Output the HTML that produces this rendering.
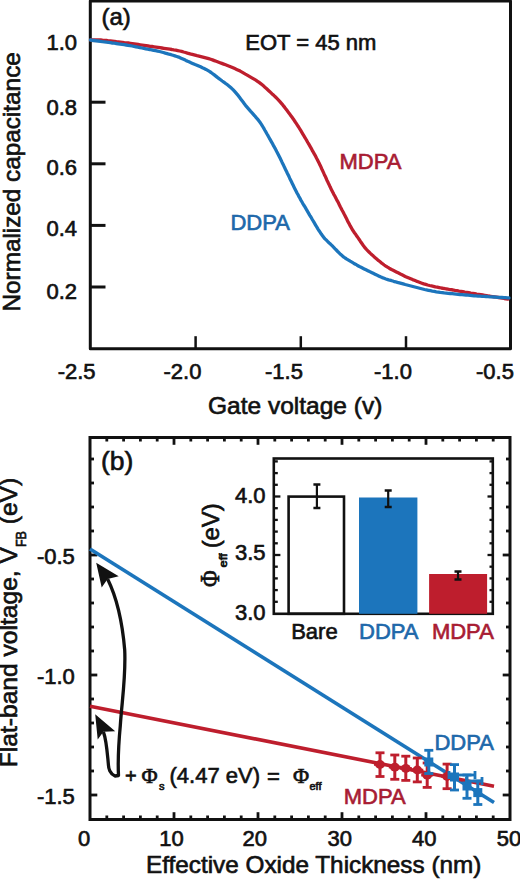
<!DOCTYPE html>
<html><head><meta charset="utf-8"><style>
html,body{margin:0;padding:0;background:#fff;}
svg{display:block;}
text{font-family:"Liberation Sans", sans-serif;}
</style></head><body>
<svg width="520" height="879" viewBox="0 0 520 879">
<rect width="520" height="879" fill="#fff"/>
<rect x="90.3" y="1.0" width="420.2" height="347.8" fill="none" stroke="#111" stroke-width="3" stroke-linejoin="round"/>
<line x1="90.30" y1="40.60" x2="105.50" y2="40.60" stroke="#111" stroke-width="3"/>
<line x1="90.30" y1="102.20" x2="105.50" y2="102.20" stroke="#111" stroke-width="3"/>
<line x1="90.30" y1="163.80" x2="105.50" y2="163.80" stroke="#111" stroke-width="3"/>
<line x1="90.30" y1="225.40" x2="105.50" y2="225.40" stroke="#111" stroke-width="3"/>
<line x1="90.30" y1="287.00" x2="105.50" y2="287.00" stroke="#111" stroke-width="3"/>
<line x1="195.60" y1="348.80" x2="195.60" y2="336.20" stroke="#111" stroke-width="2.5"/>
<line x1="300.80" y1="348.80" x2="300.80" y2="336.20" stroke="#111" stroke-width="2.5"/>
<line x1="406.00" y1="348.80" x2="406.00" y2="336.20" stroke="#111" stroke-width="2.5"/>
<polyline points="90.5,40.0 92.5,40.0 94.5,39.9 96.5,39.9 98.5,40.0 100.5,40.0 102.5,40.2 104.5,40.3 106.5,40.5 108.4,40.8 110.4,41.0 112.4,41.2 114.4,41.4 116.4,41.7 118.4,41.9 120.4,42.1 122.4,42.3 124.3,42.6 126.3,42.8 128.3,43.0 130.3,43.3 132.3,43.6 134.3,43.9 136.2,44.2 138.2,44.5 140.2,44.8 142.2,45.1 144.1,45.4 146.1,45.7 148.1,46.0 150.1,46.3 152.1,46.5 154.0,46.8 156.0,47.1 158.0,47.4 160.0,47.7 161.9,48.0 163.9,48.3 165.9,48.6 167.9,48.9 169.9,49.2 171.8,49.5 173.8,49.9 175.8,50.2 177.7,50.6 179.7,51.0 181.6,51.4 183.6,52.0 185.5,52.5 187.4,53.1 189.3,53.6 191.2,54.2 193.2,54.7 195.1,55.2 197.0,55.7 199.0,56.1 200.9,56.6 202.9,57.1 204.8,57.6 206.7,58.1 208.7,58.7 210.6,59.3 212.5,59.9 214.3,60.6 216.2,61.3 218.1,62.0 220.0,62.7 221.8,63.4 223.7,64.1 225.6,64.8 227.4,65.5 229.3,66.2 231.2,67.0 233.0,67.8 234.8,68.6 236.6,69.4 238.4,70.2 240.2,71.1 242.0,72.1 243.7,73.1 245.4,74.1 247.2,75.1 248.9,76.1 250.6,77.1 252.3,78.1 254.1,79.2 255.8,80.2 257.5,81.3 259.1,82.4 260.7,83.6 262.2,84.8 263.7,86.1 265.2,87.5 266.7,88.8 268.2,90.2 269.6,91.5 271.1,92.9 272.5,94.3 274.0,95.6 275.5,97.0 276.9,98.4 278.3,99.8 279.7,101.3 281.0,102.8 282.3,104.3 283.5,105.9 284.7,107.4 285.9,109.0 287.1,110.6 288.3,112.2 289.5,113.8 290.7,115.4 291.9,117.0 293.1,118.7 294.2,120.3 295.3,122.0 296.4,123.6 297.5,125.3 298.6,127.0 299.6,128.7 300.7,130.4 301.7,132.1 302.7,133.8 303.8,135.6 304.8,137.3 305.8,139.0 306.8,140.7 307.8,142.5 308.8,144.2 309.8,145.9 310.8,147.7 311.8,149.4 312.7,151.2 313.7,152.9 314.7,154.7 315.7,156.4 316.6,158.2 317.5,159.9 318.4,161.7 319.3,163.5 320.1,165.3 321.0,167.1 321.8,169.0 322.7,170.8 323.5,172.6 324.3,174.4 325.2,176.2 326.0,178.0 326.8,179.9 327.7,181.7 328.5,183.5 329.4,185.3 330.2,187.1 331.1,188.9 332.0,190.7 332.9,192.5 333.8,194.3 334.8,196.0 335.7,197.8 336.6,199.6 337.6,201.3 338.5,203.1 339.4,204.9 340.3,206.7 341.2,208.4 342.1,210.2 343.1,212.0 344.0,213.8 344.9,215.5 345.8,217.3 346.7,219.1 347.6,220.9 348.5,222.7 349.5,224.4 350.4,226.2 351.4,227.9 352.4,229.7 353.5,231.3 354.6,233.0 355.8,234.6 356.9,236.2 358.1,237.9 359.2,239.5 360.3,241.2 361.4,242.8 362.6,244.5 363.7,246.1 364.9,247.7 366.2,249.2 367.6,250.6 369.0,252.0 370.4,253.4 371.9,254.8 373.4,256.1 374.9,257.5 376.4,258.8 377.9,260.1 379.5,261.3 381.0,262.6 382.6,263.8 384.2,265.0 385.8,266.1 387.5,267.2 389.2,268.2 391.0,269.2 392.7,270.1 394.5,271.0 396.3,271.9 398.1,272.8 399.9,273.7 401.6,274.6 403.4,275.5 405.2,276.4 407.0,277.2 408.9,278.0 410.7,278.8 412.6,279.6 414.4,280.3 416.3,281.1 418.1,281.8 420.0,282.5 421.9,283.2 423.8,283.9 425.7,284.4 427.6,285.0 429.5,285.5 431.5,285.9 433.4,286.3 435.4,286.8 437.3,287.2 439.3,287.6 441.3,288.0 443.2,288.3 445.2,288.7 447.2,289.0 449.1,289.4 451.1,289.7 453.1,290.0 455.0,290.4 457.0,290.7 459.0,291.1 461.0,291.4 462.9,291.7 464.9,292.1 466.9,292.4 468.8,292.7 470.8,293.1 472.8,293.4 474.8,293.7 476.7,294.1 478.7,294.4 480.7,294.7 482.7,295.0 484.6,295.3 486.6,295.6 488.6,296.0 490.6,296.3 492.5,296.6 494.5,296.9 496.5,297.2 498.5,297.5 500.4,297.8 502.4,298.1 504.3,298.5 506.2,298.8 508.1,299.1" fill="none" stroke="#be1e2d" stroke-width="3.3" stroke-linejoin="round" stroke-linecap="round"/>
<polyline points="90.5,40.0 92.5,40.3 94.5,40.5 96.5,40.8 98.4,41.0 100.4,41.3 102.4,41.6 104.4,41.8 106.4,42.1 108.3,42.4 110.3,42.7 112.3,43.0 114.3,43.2 116.3,43.5 118.2,43.8 120.2,44.1 122.2,44.4 124.2,44.7 126.2,45.0 128.1,45.3 130.1,45.6 132.1,46.0 134.0,46.4 136.0,46.8 137.9,47.2 139.9,47.6 141.9,48.0 143.8,48.4 145.8,48.8 147.7,49.2 149.7,49.5 151.7,49.9 153.6,50.3 155.6,50.7 157.6,51.1 159.5,51.5 161.4,52.0 163.4,52.5 165.3,53.1 167.2,53.6 169.1,54.2 171.1,54.7 173.0,55.3 174.9,55.9 176.8,56.5 178.7,57.1 180.5,57.9 182.3,58.7 184.2,59.5 185.9,60.4 187.7,61.3 189.5,62.1 191.4,62.9 193.2,63.7 195.1,64.5 196.9,65.2 198.7,66.0 200.6,66.8 202.4,67.7 204.2,68.5 206.0,69.4 207.7,70.4 209.4,71.4 211.1,72.5 212.7,73.7 214.3,74.9 215.8,76.1 217.4,77.4 219.0,78.6 220.6,79.8 222.2,81.0 223.8,82.1 225.4,83.3 227.1,84.5 228.6,85.7 230.1,87.0 231.6,88.3 233.0,89.7 234.4,91.2 235.7,92.7 237.0,94.2 238.3,95.7 239.5,97.3 240.7,98.9 241.9,100.5 243.1,102.1 244.3,103.7 245.5,105.3 246.8,106.8 248.1,108.3 249.4,109.8 250.7,111.3 252.1,112.8 253.4,114.3 254.7,115.8 256.0,117.4 257.3,118.9 258.6,120.4 259.8,122.0 260.9,123.6 262.0,125.3 263.0,127.0 264.0,128.7 265.0,130.5 266.0,132.2 267.0,134.0 268.0,135.7 269.0,137.5 269.9,139.2 270.9,140.9 271.9,142.7 272.9,144.4 273.8,146.2 274.8,147.9 275.8,149.7 276.7,151.5 277.6,153.2 278.5,155.0 279.4,156.8 280.3,158.6 281.2,160.4 282.0,162.2 282.9,164.0 283.8,165.8 284.6,167.6 285.5,169.4 286.4,171.2 287.2,173.0 288.1,174.8 289.0,176.6 289.8,178.4 290.7,180.2 291.6,182.0 292.4,183.8 293.3,185.6 294.2,187.4 295.1,189.2 296.0,191.0 296.9,192.8 297.9,194.5 298.8,196.3 299.8,198.0 300.7,199.8 301.7,201.5 302.7,203.3 303.7,205.0 304.8,206.7 305.8,208.4 306.8,210.2 307.8,211.9 308.8,213.6 309.8,215.3 310.9,217.0 311.9,218.8 312.9,220.5 313.9,222.2 314.9,223.9 315.9,225.7 317.0,227.4 318.0,229.1 319.1,230.8 320.2,232.4 321.3,234.1 322.5,235.7 323.7,237.3 325.0,238.8 326.4,240.2 327.8,241.6 329.2,243.0 330.7,244.3 332.1,245.7 333.5,247.1 334.9,248.6 336.3,250.0 337.7,251.5 339.1,252.9 340.5,254.3 342.0,255.6 343.5,256.9 345.1,258.0 346.8,259.1 348.5,260.1 350.2,261.2 351.9,262.2 353.6,263.2 355.4,264.2 357.1,265.2 358.9,266.2 360.6,267.1 362.4,268.0 364.2,268.9 366.0,269.8 367.8,270.7 369.6,271.6 371.4,272.4 373.2,273.3 375.0,274.2 376.8,275.1 378.6,275.9 380.4,276.8 382.2,277.6 384.1,278.3 385.9,279.0 387.8,279.6 389.7,280.2 391.7,280.7 393.6,281.3 395.5,281.8 397.4,282.4 399.4,282.9 401.3,283.4 403.2,283.9 405.2,284.5 407.1,285.0 409.0,285.5 411.0,286.0 412.9,286.5 414.8,287.0 416.8,287.5 418.7,288.0 420.6,288.5 422.6,289.0 424.5,289.5 426.5,289.9 428.4,290.3 430.4,290.7 432.3,291.1 434.3,291.4 436.3,291.8 438.3,292.1 440.2,292.4 442.2,292.6 444.2,292.9 446.2,293.1 448.2,293.3 450.2,293.5 452.2,293.7 454.1,293.9 456.1,294.1 458.1,294.3 460.1,294.5 462.1,294.6 464.1,294.8 466.1,295.0 468.1,295.2 470.1,295.4 472.1,295.6 474.1,295.8 476.0,295.9 478.0,296.1 480.0,296.2 482.0,296.3 484.0,296.4 486.0,296.5 488.0,296.7 490.0,296.8 492.0,296.9 494.0,297.0 496.0,297.1 498.0,297.3 500.0,297.4 502.0,297.5 503.9,297.6 505.7,297.7 507.4,297.8 509.0,297.9" fill="none" stroke="#1c75bc" stroke-width="3.3" stroke-linejoin="round" stroke-linecap="round"/>
<text x="77.00" y="50.20" font-size="22" text-anchor="end" fill="#111" stroke="#111" stroke-width="0.65" >1.0</text>
<text x="77.00" y="115.00" font-size="22" text-anchor="end" fill="#111" stroke="#111" stroke-width="0.65" >0.8</text>
<text x="77.00" y="175.00" font-size="22" text-anchor="end" fill="#111" stroke="#111" stroke-width="0.65" >0.6</text>
<text x="77.00" y="236.30" font-size="22" text-anchor="end" fill="#111" stroke="#111" stroke-width="0.65" >0.4</text>
<text x="77.00" y="299.00" font-size="22" text-anchor="end" fill="#111" stroke="#111" stroke-width="0.65" >0.2</text>
<text x="57.70" y="378.80" font-size="22" text-anchor="start" fill="#111" stroke="#111" stroke-width="0.65" >-2.5</text>
<text x="163.50" y="378.80" font-size="22" text-anchor="start" fill="#111" stroke="#111" stroke-width="0.65" >-2.0</text>
<text x="265.00" y="378.80" font-size="22" text-anchor="start" fill="#111" stroke="#111" stroke-width="0.65" >-1.5</text>
<text x="374.00" y="378.80" font-size="22" text-anchor="start" fill="#111" stroke="#111" stroke-width="0.65" >-1.0</text>
<text x="476.00" y="378.80" font-size="22" text-anchor="start" fill="#111" stroke="#111" stroke-width="0.65" >-0.5</text>
<text x="208.00" y="414.20" font-size="24.5" text-anchor="start" fill="#111" stroke="#111" stroke-width="0.65" >Gate voltage (v)</text>
<text transform="translate(19.5,311.5) rotate(-90)" font-size="24.3" fill="#111" stroke="#111" stroke-width="0.65">Normalized capacitance</text>
<text x="101.50" y="25.00" font-size="24" text-anchor="start" fill="#111" stroke="#111" stroke-width="0.65" >(a)</text>
<text x="245.30" y="49.50" font-size="22" text-anchor="start" fill="#111" stroke="#111" stroke-width="0.65" >EOT = 45 nm</text>
<text x="339.50" y="168.90" font-size="22" text-anchor="start" fill="#a81c33" stroke="#a81c33" stroke-width="0.65" >MDPA</text>
<text x="230.40" y="229.80" font-size="22" text-anchor="start" fill="#2068aa" stroke="#2068aa" stroke-width="0.65" >DDPA</text>
<rect x="90.0" y="437.5" width="420.0" height="382.0" fill="none" stroke="#111" stroke-width="3"/>
<line x1="106.80" y1="819.50" x2="106.80" y2="815.50" stroke="#111" stroke-width="2.8"/>
<line x1="106.80" y1="437.50" x2="106.80" y2="441.50" stroke="#111" stroke-width="2.8"/>
<line x1="123.60" y1="819.50" x2="123.60" y2="815.50" stroke="#111" stroke-width="2.8"/>
<line x1="123.60" y1="437.50" x2="123.60" y2="441.50" stroke="#111" stroke-width="2.8"/>
<line x1="140.40" y1="819.50" x2="140.40" y2="815.50" stroke="#111" stroke-width="2.8"/>
<line x1="140.40" y1="437.50" x2="140.40" y2="441.50" stroke="#111" stroke-width="2.8"/>
<line x1="157.20" y1="819.50" x2="157.20" y2="815.50" stroke="#111" stroke-width="2.8"/>
<line x1="157.20" y1="437.50" x2="157.20" y2="441.50" stroke="#111" stroke-width="2.8"/>
<line x1="174.00" y1="819.50" x2="174.00" y2="812.20" stroke="#111" stroke-width="2.8"/>
<line x1="174.00" y1="437.50" x2="174.00" y2="444.80" stroke="#111" stroke-width="2.8"/>
<line x1="190.80" y1="819.50" x2="190.80" y2="815.50" stroke="#111" stroke-width="2.8"/>
<line x1="190.80" y1="437.50" x2="190.80" y2="441.50" stroke="#111" stroke-width="2.8"/>
<line x1="207.60" y1="819.50" x2="207.60" y2="815.50" stroke="#111" stroke-width="2.8"/>
<line x1="207.60" y1="437.50" x2="207.60" y2="441.50" stroke="#111" stroke-width="2.8"/>
<line x1="224.40" y1="819.50" x2="224.40" y2="815.50" stroke="#111" stroke-width="2.8"/>
<line x1="224.40" y1="437.50" x2="224.40" y2="441.50" stroke="#111" stroke-width="2.8"/>
<line x1="241.20" y1="819.50" x2="241.20" y2="815.50" stroke="#111" stroke-width="2.8"/>
<line x1="241.20" y1="437.50" x2="241.20" y2="441.50" stroke="#111" stroke-width="2.8"/>
<line x1="258.00" y1="819.50" x2="258.00" y2="812.20" stroke="#111" stroke-width="2.8"/>
<line x1="258.00" y1="437.50" x2="258.00" y2="444.80" stroke="#111" stroke-width="2.8"/>
<line x1="274.80" y1="819.50" x2="274.80" y2="815.50" stroke="#111" stroke-width="2.8"/>
<line x1="274.80" y1="437.50" x2="274.80" y2="441.50" stroke="#111" stroke-width="2.8"/>
<line x1="291.60" y1="819.50" x2="291.60" y2="815.50" stroke="#111" stroke-width="2.8"/>
<line x1="291.60" y1="437.50" x2="291.60" y2="441.50" stroke="#111" stroke-width="2.8"/>
<line x1="308.40" y1="819.50" x2="308.40" y2="815.50" stroke="#111" stroke-width="2.8"/>
<line x1="308.40" y1="437.50" x2="308.40" y2="441.50" stroke="#111" stroke-width="2.8"/>
<line x1="325.20" y1="819.50" x2="325.20" y2="815.50" stroke="#111" stroke-width="2.8"/>
<line x1="325.20" y1="437.50" x2="325.20" y2="441.50" stroke="#111" stroke-width="2.8"/>
<line x1="342.00" y1="819.50" x2="342.00" y2="812.20" stroke="#111" stroke-width="2.8"/>
<line x1="342.00" y1="437.50" x2="342.00" y2="444.80" stroke="#111" stroke-width="2.8"/>
<line x1="358.80" y1="819.50" x2="358.80" y2="815.50" stroke="#111" stroke-width="2.8"/>
<line x1="358.80" y1="437.50" x2="358.80" y2="441.50" stroke="#111" stroke-width="2.8"/>
<line x1="375.60" y1="819.50" x2="375.60" y2="815.50" stroke="#111" stroke-width="2.8"/>
<line x1="375.60" y1="437.50" x2="375.60" y2="441.50" stroke="#111" stroke-width="2.8"/>
<line x1="392.40" y1="819.50" x2="392.40" y2="815.50" stroke="#111" stroke-width="2.8"/>
<line x1="392.40" y1="437.50" x2="392.40" y2="441.50" stroke="#111" stroke-width="2.8"/>
<line x1="409.20" y1="819.50" x2="409.20" y2="815.50" stroke="#111" stroke-width="2.8"/>
<line x1="409.20" y1="437.50" x2="409.20" y2="441.50" stroke="#111" stroke-width="2.8"/>
<line x1="426.00" y1="819.50" x2="426.00" y2="812.20" stroke="#111" stroke-width="2.8"/>
<line x1="426.00" y1="437.50" x2="426.00" y2="444.80" stroke="#111" stroke-width="2.8"/>
<line x1="442.80" y1="819.50" x2="442.80" y2="815.50" stroke="#111" stroke-width="2.8"/>
<line x1="442.80" y1="437.50" x2="442.80" y2="441.50" stroke="#111" stroke-width="2.8"/>
<line x1="459.60" y1="819.50" x2="459.60" y2="815.50" stroke="#111" stroke-width="2.8"/>
<line x1="459.60" y1="437.50" x2="459.60" y2="441.50" stroke="#111" stroke-width="2.8"/>
<line x1="476.40" y1="819.50" x2="476.40" y2="815.50" stroke="#111" stroke-width="2.8"/>
<line x1="476.40" y1="437.50" x2="476.40" y2="441.50" stroke="#111" stroke-width="2.8"/>
<line x1="493.20" y1="819.50" x2="493.20" y2="815.50" stroke="#111" stroke-width="2.8"/>
<line x1="493.20" y1="437.50" x2="493.20" y2="441.50" stroke="#111" stroke-width="2.8"/>
<line x1="90.00" y1="459.00" x2="94.00" y2="459.00" stroke="#111" stroke-width="2.8"/>
<line x1="510.00" y1="459.00" x2="506.00" y2="459.00" stroke="#111" stroke-width="2.8"/>
<line x1="90.00" y1="483.00" x2="94.00" y2="483.00" stroke="#111" stroke-width="2.8"/>
<line x1="510.00" y1="483.00" x2="506.00" y2="483.00" stroke="#111" stroke-width="2.8"/>
<line x1="90.00" y1="507.00" x2="94.00" y2="507.00" stroke="#111" stroke-width="2.8"/>
<line x1="510.00" y1="507.00" x2="506.00" y2="507.00" stroke="#111" stroke-width="2.8"/>
<line x1="90.00" y1="531.00" x2="94.00" y2="531.00" stroke="#111" stroke-width="2.8"/>
<line x1="510.00" y1="531.00" x2="506.00" y2="531.00" stroke="#111" stroke-width="2.8"/>
<line x1="90.00" y1="555.00" x2="97.30" y2="555.00" stroke="#111" stroke-width="2.8"/>
<line x1="510.00" y1="555.00" x2="502.70" y2="555.00" stroke="#111" stroke-width="2.8"/>
<line x1="90.00" y1="579.00" x2="94.00" y2="579.00" stroke="#111" stroke-width="2.8"/>
<line x1="510.00" y1="579.00" x2="506.00" y2="579.00" stroke="#111" stroke-width="2.8"/>
<line x1="90.00" y1="603.00" x2="94.00" y2="603.00" stroke="#111" stroke-width="2.8"/>
<line x1="510.00" y1="603.00" x2="506.00" y2="603.00" stroke="#111" stroke-width="2.8"/>
<line x1="90.00" y1="627.00" x2="94.00" y2="627.00" stroke="#111" stroke-width="2.8"/>
<line x1="510.00" y1="627.00" x2="506.00" y2="627.00" stroke="#111" stroke-width="2.8"/>
<line x1="90.00" y1="651.00" x2="94.00" y2="651.00" stroke="#111" stroke-width="2.8"/>
<line x1="510.00" y1="651.00" x2="506.00" y2="651.00" stroke="#111" stroke-width="2.8"/>
<line x1="90.00" y1="675.00" x2="97.30" y2="675.00" stroke="#111" stroke-width="2.8"/>
<line x1="510.00" y1="675.00" x2="502.70" y2="675.00" stroke="#111" stroke-width="2.8"/>
<line x1="90.00" y1="699.00" x2="94.00" y2="699.00" stroke="#111" stroke-width="2.8"/>
<line x1="510.00" y1="699.00" x2="506.00" y2="699.00" stroke="#111" stroke-width="2.8"/>
<line x1="90.00" y1="723.00" x2="94.00" y2="723.00" stroke="#111" stroke-width="2.8"/>
<line x1="510.00" y1="723.00" x2="506.00" y2="723.00" stroke="#111" stroke-width="2.8"/>
<line x1="90.00" y1="747.00" x2="94.00" y2="747.00" stroke="#111" stroke-width="2.8"/>
<line x1="510.00" y1="747.00" x2="506.00" y2="747.00" stroke="#111" stroke-width="2.8"/>
<line x1="90.00" y1="771.00" x2="94.00" y2="771.00" stroke="#111" stroke-width="2.8"/>
<line x1="510.00" y1="771.00" x2="506.00" y2="771.00" stroke="#111" stroke-width="2.8"/>
<line x1="90.00" y1="795.00" x2="97.30" y2="795.00" stroke="#111" stroke-width="2.8"/>
<line x1="510.00" y1="795.00" x2="502.70" y2="795.00" stroke="#111" stroke-width="2.8"/>
<line x1="90.00" y1="549.00" x2="494.00" y2="802.50" stroke="#1c75bc" stroke-width="3.6"/>
<line x1="90.00" y1="706.20" x2="494.00" y2="786.20" stroke="#be1e2d" stroke-width="3.6"/>
<line x1="380.00" y1="752.80" x2="380.00" y2="776.50" stroke="#be1e2d" stroke-width="3"/>
<line x1="375.50" y1="752.80" x2="384.50" y2="752.80" stroke="#be1e2d" stroke-width="2.8"/>
<line x1="375.50" y1="776.50" x2="384.50" y2="776.50" stroke="#be1e2d" stroke-width="2.8"/>
<line x1="374.00" y1="764.50" x2="386.00" y2="764.50" stroke="#be1e2d" stroke-width="2.6"/>
<ellipse cx="380" cy="764.5" rx="4.9" ry="4.4" fill="#be1e2d"/>
<line x1="394.80" y1="755.00" x2="394.80" y2="779.30" stroke="#be1e2d" stroke-width="3"/>
<line x1="390.30" y1="755.00" x2="399.30" y2="755.00" stroke="#be1e2d" stroke-width="2.8"/>
<line x1="390.30" y1="779.30" x2="399.30" y2="779.30" stroke="#be1e2d" stroke-width="2.8"/>
<line x1="388.80" y1="767.20" x2="400.80" y2="767.20" stroke="#be1e2d" stroke-width="2.6"/>
<ellipse cx="394.8" cy="767.2" rx="4.9" ry="4.4" fill="#be1e2d"/>
<line x1="405.80" y1="756.20" x2="405.80" y2="780.40" stroke="#be1e2d" stroke-width="3"/>
<line x1="401.30" y1="756.20" x2="410.30" y2="756.20" stroke="#be1e2d" stroke-width="2.8"/>
<line x1="401.30" y1="780.40" x2="410.30" y2="780.40" stroke="#be1e2d" stroke-width="2.8"/>
<line x1="399.80" y1="768.30" x2="411.80" y2="768.30" stroke="#be1e2d" stroke-width="2.6"/>
<ellipse cx="405.8" cy="768.3" rx="4.9" ry="4.4" fill="#be1e2d"/>
<line x1="417.30" y1="758.00" x2="417.30" y2="781.90" stroke="#be1e2d" stroke-width="3"/>
<line x1="412.80" y1="758.00" x2="421.80" y2="758.00" stroke="#be1e2d" stroke-width="2.8"/>
<line x1="412.80" y1="781.90" x2="421.80" y2="781.90" stroke="#be1e2d" stroke-width="2.8"/>
<line x1="411.30" y1="770.00" x2="423.30" y2="770.00" stroke="#be1e2d" stroke-width="2.6"/>
<ellipse cx="417.3" cy="770" rx="4.9" ry="4.4" fill="#be1e2d"/>
<line x1="427.20" y1="763.00" x2="427.20" y2="787.40" stroke="#be1e2d" stroke-width="3"/>
<line x1="422.70" y1="763.00" x2="431.70" y2="763.00" stroke="#be1e2d" stroke-width="2.8"/>
<line x1="422.70" y1="787.40" x2="431.70" y2="787.40" stroke="#be1e2d" stroke-width="2.8"/>
<line x1="421.20" y1="775.20" x2="433.20" y2="775.20" stroke="#be1e2d" stroke-width="2.6"/>
<ellipse cx="427.2" cy="775.2" rx="4.9" ry="4.4" fill="#be1e2d"/>
<line x1="447.10" y1="764.10" x2="447.10" y2="788.70" stroke="#be1e2d" stroke-width="3"/>
<line x1="442.60" y1="764.10" x2="451.60" y2="764.10" stroke="#be1e2d" stroke-width="2.8"/>
<line x1="442.60" y1="788.70" x2="451.60" y2="788.70" stroke="#be1e2d" stroke-width="2.8"/>
<line x1="441.10" y1="776.40" x2="453.10" y2="776.40" stroke="#be1e2d" stroke-width="2.6"/>
<ellipse cx="447.1" cy="776.4" rx="4.9" ry="4.4" fill="#be1e2d"/>
<line x1="428.80" y1="750.30" x2="428.80" y2="773.50" stroke="#1c75bc" stroke-width="3"/>
<line x1="424.30" y1="750.30" x2="433.30" y2="750.30" stroke="#1c75bc" stroke-width="2.8"/>
<line x1="424.30" y1="773.50" x2="433.30" y2="773.50" stroke="#1c75bc" stroke-width="2.8"/>
<rect x="424.3" y="757.5" width="9" height="9" fill="#1c75bc"/>
<line x1="454.50" y1="764.60" x2="454.50" y2="790.00" stroke="#1c75bc" stroke-width="3"/>
<line x1="450.00" y1="764.60" x2="459.00" y2="764.60" stroke="#1c75bc" stroke-width="2.8"/>
<line x1="450.00" y1="790.00" x2="459.00" y2="790.00" stroke="#1c75bc" stroke-width="2.8"/>
<rect x="450.0" y="772.5" width="9" height="9" fill="#1c75bc"/>
<line x1="467.00" y1="775.00" x2="467.00" y2="798.30" stroke="#1c75bc" stroke-width="3"/>
<line x1="462.50" y1="775.00" x2="471.50" y2="775.00" stroke="#1c75bc" stroke-width="2.8"/>
<line x1="462.50" y1="798.30" x2="471.50" y2="798.30" stroke="#1c75bc" stroke-width="2.8"/>
<rect x="462.5" y="781.5" width="9" height="9" fill="#1c75bc"/>
<line x1="477.80" y1="781.00" x2="477.80" y2="804.50" stroke="#1c75bc" stroke-width="3"/>
<line x1="473.30" y1="781.00" x2="482.30" y2="781.00" stroke="#1c75bc" stroke-width="2.8"/>
<line x1="473.30" y1="804.50" x2="482.30" y2="804.50" stroke="#1c75bc" stroke-width="2.8"/>
<rect x="473.3" y="788.1" width="9" height="9" fill="#1c75bc"/>
<line x1="424.30" y1="759.50" x2="433.00" y2="759.50" stroke="#1c75bc" stroke-width="2.8"/>
<line x1="449.00" y1="775.00" x2="475.00" y2="775.00" stroke="#1c75bc" stroke-width="2.8"/>
<line x1="449.00" y1="771.00" x2="449.00" y2="779.00" stroke="#1c75bc" stroke-width="2.8"/>
<line x1="475.00" y1="771.00" x2="475.00" y2="779.00" stroke="#1c75bc" stroke-width="2.8"/>
<line x1="466.50" y1="781.00" x2="482.00" y2="781.00" stroke="#1c75bc" stroke-width="2.8"/>
<line x1="466.50" y1="777.00" x2="466.50" y2="785.00" stroke="#1c75bc" stroke-width="2.8"/>
<line x1="482.00" y1="777.00" x2="482.00" y2="785.00" stroke="#1c75bc" stroke-width="2.8"/>
<text x="36.90" y="563.80" font-size="22" text-anchor="start" fill="#111" stroke="#111" stroke-width="0.65" >-0.5</text>
<text x="36.90" y="683.80" font-size="22" text-anchor="start" fill="#111" stroke="#111" stroke-width="0.65" >-1.0</text>
<text x="36.90" y="803.80" font-size="22" text-anchor="start" fill="#111" stroke="#111" stroke-width="0.65" >-1.5</text>
<text x="78.00" y="846.00" font-size="22" text-anchor="start" fill="#111" stroke="#111" stroke-width="0.65" >0</text>
<text x="159.30" y="846.00" font-size="22" text-anchor="start" fill="#111" stroke="#111" stroke-width="0.65" >10</text>
<text x="242.50" y="846.00" font-size="22" text-anchor="start" fill="#111" stroke="#111" stroke-width="0.65" >20</text>
<text x="327.50" y="846.00" font-size="22" text-anchor="start" fill="#111" stroke="#111" stroke-width="0.65" >30</text>
<text x="411.90" y="846.00" font-size="22" text-anchor="start" fill="#111" stroke="#111" stroke-width="0.65" >40</text>
<text x="496.80" y="846.00" font-size="22" text-anchor="start" fill="#111" stroke="#111" stroke-width="0.65" >50</text>
<text x="146.00" y="873.20" font-size="24.3" text-anchor="start" fill="#111" stroke="#111" stroke-width="0.65" >Effective Oxide Thickness (nm)</text>
<text transform="translate(17.1,767.2) rotate(-90)" font-size="24.6" fill="#111" stroke="#111" stroke-width="0.65">Flat-band voltage, V<tspan font-size="14.5" dy="8.5" textLength="16" lengthAdjust="spacingAndGlyphs">FB</tspan><tspan dy="-8.5"> (eV)</tspan></text>
<text x="100.90" y="470.30" font-size="26.5" text-anchor="start" fill="#111" stroke="#111" stroke-width="0.65" >(b)</text>
<text x="434.40" y="750.00" font-size="22" text-anchor="start" fill="#2068aa" stroke="#2068aa" stroke-width="0.65" >DDPA</text>
<text x="343.80" y="804.20" font-size="22" text-anchor="start" fill="#a81c33" stroke="#a81c33" stroke-width="0.65" >MDPA</text>
<text x="125" y="783" font-size="20" fill="#111" stroke="#111" stroke-width="0.65">+</text>
<text x="141.5" y="783" font-size="22" fill="#111" stroke="#111" stroke-width="0.65" style="font-family:Liberation Serif">&#934;</text>
<text x="159" y="790" font-size="11" fill="#111" stroke="#111" stroke-width="0.65">s</text>
<text x="169.5" y="783" font-size="22" fill="#111" stroke="#111" stroke-width="0.65">(4.47 eV)</text>
<text x="267" y="784.3" font-size="22" fill="#111" stroke="#111" stroke-width="0.65">=</text>
<text x="293" y="783" font-size="22" fill="#111" stroke="#111" stroke-width="0.65" style="font-family:Liberation Serif">&#934;</text>
<text x="309.5" y="790" font-size="11" fill="#111" stroke="#111" stroke-width="0.65">eff</text>
<path d="M107.6,579 C116,596 122,618 124.7,650 C126,676 122,700 120.3,725.6 C118.5,745 117.7,760 118.5,775.5 L115,776 C110,774 108.5,768 108.5,765.6 C107,750 106.5,740 103.4,731.8" fill="none" stroke="#111" stroke-width="3.3" stroke-linejoin="round"/>
<path d="M96.2,562.7 L101.7,587.4 L107.6,578.9 L118.7,576.3 Z" fill="#111"/>
<path d="M95.2,714.3 L97.7,739.4 L103.4,731.8 L115.2,731.3 Z" fill="#111"/>
<rect x="273.8" y="458.5" width="219.0" height="155.29999999999995" fill="#fff" stroke="#111" stroke-width="2.6"/>
<rect x="359" y="497.5" width="58.4" height="116.29999999999995" fill="#1c75bc"/>
<rect x="429.1" y="574" width="58" height="39.799999999999955" fill="#be1e2d"/>
<rect x="288.6" y="496.6" width="55.4" height="117.19999999999993" fill="none" stroke="#111" stroke-width="2.6"/>
<line x1="273.80" y1="601.80" x2="277.80" y2="601.80" stroke="#111" stroke-width="2.3"/>
<line x1="492.80" y1="601.80" x2="489.50" y2="601.80" stroke="#111" stroke-width="2.3"/>
<line x1="273.80" y1="590.10" x2="277.80" y2="590.10" stroke="#111" stroke-width="2.3"/>
<line x1="492.80" y1="590.10" x2="489.50" y2="590.10" stroke="#111" stroke-width="2.3"/>
<line x1="273.80" y1="578.40" x2="277.80" y2="578.40" stroke="#111" stroke-width="2.3"/>
<line x1="492.80" y1="578.40" x2="489.50" y2="578.40" stroke="#111" stroke-width="2.3"/>
<line x1="273.80" y1="566.70" x2="277.80" y2="566.70" stroke="#111" stroke-width="2.3"/>
<line x1="492.80" y1="566.70" x2="489.50" y2="566.70" stroke="#111" stroke-width="2.3"/>
<line x1="273.80" y1="555.00" x2="280.40" y2="555.00" stroke="#111" stroke-width="2.3"/>
<line x1="492.80" y1="555.00" x2="487.50" y2="555.00" stroke="#111" stroke-width="2.3"/>
<line x1="273.80" y1="543.30" x2="277.80" y2="543.30" stroke="#111" stroke-width="2.3"/>
<line x1="492.80" y1="543.30" x2="489.50" y2="543.30" stroke="#111" stroke-width="2.3"/>
<line x1="273.80" y1="531.60" x2="277.80" y2="531.60" stroke="#111" stroke-width="2.3"/>
<line x1="492.80" y1="531.60" x2="489.50" y2="531.60" stroke="#111" stroke-width="2.3"/>
<line x1="273.80" y1="519.90" x2="277.80" y2="519.90" stroke="#111" stroke-width="2.3"/>
<line x1="492.80" y1="519.90" x2="489.50" y2="519.90" stroke="#111" stroke-width="2.3"/>
<line x1="273.80" y1="508.20" x2="277.80" y2="508.20" stroke="#111" stroke-width="2.3"/>
<line x1="492.80" y1="508.20" x2="489.50" y2="508.20" stroke="#111" stroke-width="2.3"/>
<line x1="273.80" y1="496.50" x2="280.40" y2="496.50" stroke="#111" stroke-width="2.3"/>
<line x1="492.80" y1="496.50" x2="487.50" y2="496.50" stroke="#111" stroke-width="2.3"/>
<line x1="273.80" y1="484.80" x2="277.80" y2="484.80" stroke="#111" stroke-width="2.3"/>
<line x1="492.80" y1="484.80" x2="489.50" y2="484.80" stroke="#111" stroke-width="2.3"/>
<line x1="273.80" y1="473.10" x2="277.80" y2="473.10" stroke="#111" stroke-width="2.3"/>
<line x1="492.80" y1="473.10" x2="489.50" y2="473.10" stroke="#111" stroke-width="2.3"/>
<line x1="273.80" y1="461.40" x2="277.80" y2="461.40" stroke="#111" stroke-width="2.3"/>
<line x1="492.80" y1="461.40" x2="489.50" y2="461.40" stroke="#111" stroke-width="2.3"/>
<line x1="316.90" y1="484.50" x2="316.90" y2="508.00" stroke="#111" stroke-width="2.2"/>
<line x1="313.40" y1="484.50" x2="320.40" y2="484.50" stroke="#111" stroke-width="2.5"/>
<line x1="313.40" y1="508.00" x2="320.40" y2="508.00" stroke="#111" stroke-width="2.5"/>
<line x1="388.20" y1="490.50" x2="388.20" y2="507.00" stroke="#111" stroke-width="2.2"/>
<line x1="384.70" y1="490.50" x2="391.70" y2="490.50" stroke="#111" stroke-width="2.5"/>
<line x1="384.70" y1="507.00" x2="391.70" y2="507.00" stroke="#111" stroke-width="2.5"/>
<line x1="458.00" y1="571.50" x2="458.00" y2="579.50" stroke="#111" stroke-width="2.2"/>
<line x1="454.50" y1="571.50" x2="461.50" y2="571.50" stroke="#111" stroke-width="2.5"/>
<line x1="454.50" y1="579.50" x2="461.50" y2="579.50" stroke="#111" stroke-width="2.5"/>
<text x="265.50" y="503.00" font-size="22" text-anchor="end" fill="#111" stroke="#111" stroke-width="0.65" >4.0</text>
<text x="265.50" y="560.30" font-size="22" text-anchor="end" fill="#111" stroke="#111" stroke-width="0.65" >3.5</text>
<text x="265.50" y="620.00" font-size="22" text-anchor="end" fill="#111" stroke="#111" stroke-width="0.65" >3.0</text>
<text transform="translate(218.5,587) rotate(-90)" font-size="27" fill="#111" stroke="#111" stroke-width="0.65" style="font-family:Liberation Serif" textLength="16.8" lengthAdjust="spacingAndGlyphs">&#934;</text>
<text transform="translate(226.8,567.5) rotate(-90)" font-size="10.5" fill="#111" stroke="#111" stroke-width="0.65" textLength="14.2" lengthAdjust="spacingAndGlyphs">eff</text>
<text transform="translate(218.5,548.3) rotate(-90)" font-size="23.8" fill="#111" stroke="#111" stroke-width="0.65">(eV)</text>
<text x="291.20" y="639.20" font-size="22" text-anchor="start" fill="#111" stroke="#111" stroke-width="0.65" >Bare</text>
<text x="359.00" y="639.00" font-size="22" text-anchor="start" fill="#2068aa" stroke="#2068aa" stroke-width="0.65" >DDPA</text>
<text x="431.90" y="639.00" font-size="22" text-anchor="start" fill="#a81c33" stroke="#a81c33" stroke-width="0.65" >MDPA</text>
</svg>
</body></html>
